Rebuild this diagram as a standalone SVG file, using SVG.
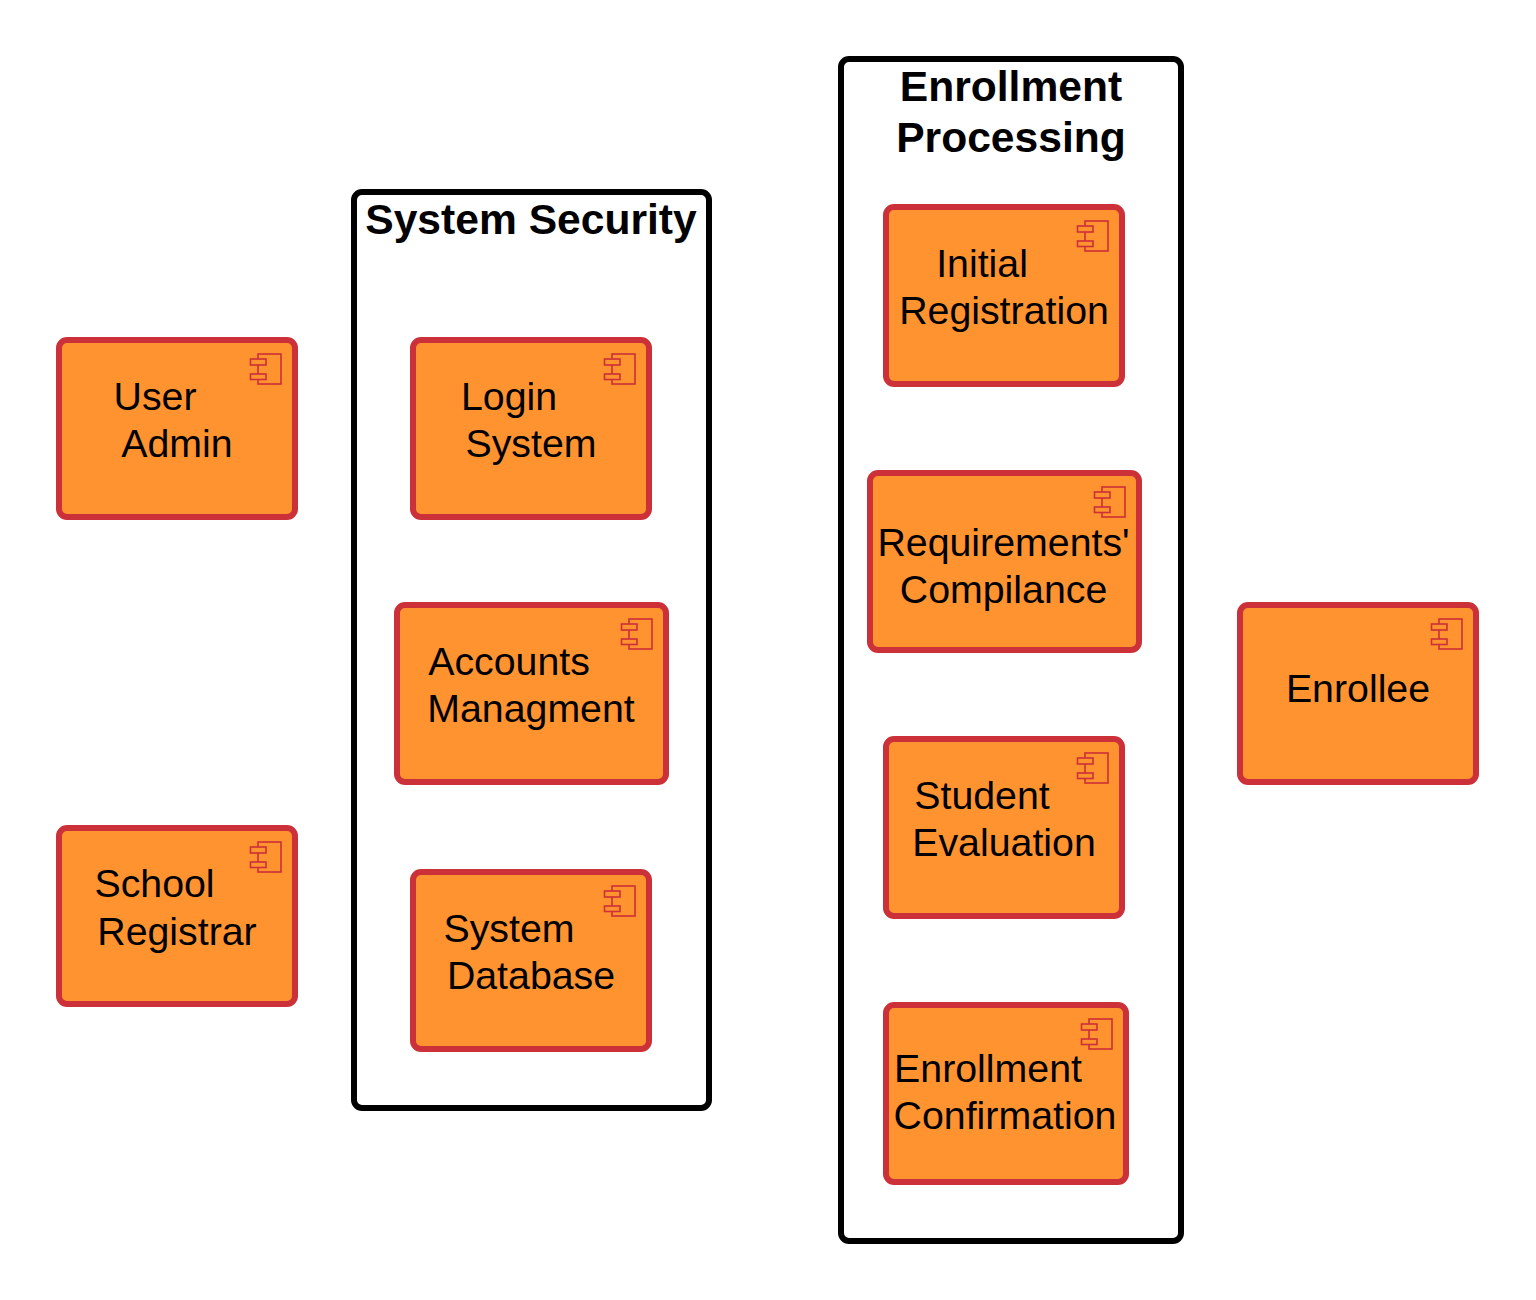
<svg xmlns="http://www.w3.org/2000/svg" width="1536" height="1300" viewBox="0 0 1536 1300">
<style>
.box{fill:#FF9330;stroke:#CC3038;stroke-width:6}
.pkg{fill:#fff;stroke:#000;stroke-width:6}
.t{font-family:"Liberation Sans",Arial,sans-serif;font-size:39.300px;fill:#000;text-anchor:middle}
.h{font-family:"Liberation Sans",Arial,sans-serif;font-size:42.600px;font-weight:bold;fill:#000;text-anchor:middle}
.i{fill:none;stroke:#CC3038;stroke-width:1.600}
.ip{fill:#FF9330;stroke:#CC3038;stroke-width:1.600}
</style>
<defs>
<g id="icon">
<rect class="i" x="8" y="0" width="23" height="30"/>
<rect class="ip" x="0.500" y="5" width="15.500" height="6"/>
<rect class="ip" x="0.500" y="20" width="15.500" height="5.500"/>
</g>
</defs>
<rect width="1536" height="1300" fill="#fff"/>
<g id="system-security">
<rect class="pkg" x="354" y="192" width="355" height="916" rx="8"/>
<text class="h" x="531" y="234">System Security</text>
</g>
<g id="enrollment-processing">
<rect class="pkg" x="841" y="59" width="340" height="1182" rx="8"/>
<text class="h" x="1011" y="101">Enrollment</text>
<text class="h" x="1011" y="152">Processing</text>
</g>
<g id="connectors"/>
<g id="user-admin">
<rect class="box" x="59" y="340" width="236" height="177" rx="8"/>
<use href="#icon" x="250" y="354"/>
<text class="t" x="155" y="410">User</text>
<text class="t" x="177" y="457">Admin</text>
</g>
<g id="school-registrar">
<rect class="box" x="59" y="828" width="236" height="176" rx="8"/>
<use href="#icon" x="250" y="842"/>
<text class="t" x="154.500" y="897">School</text>
<text class="t" x="177" y="945">Registrar</text>
</g>
<g id="login-system">
<rect class="box" x="413" y="340" width="236" height="177" rx="8"/>
<use href="#icon" x="604" y="354"/>
<text class="t" x="509" y="410">Login</text>
<text class="t" x="531" y="457">System</text>
</g>
<g id="accounts-managment">
<rect class="box" x="397" y="605" width="269" height="177" rx="8"/>
<use href="#icon" x="621" y="619"/>
<text class="t" x="509" y="675">Accounts</text>
<text class="t" x="531" y="722">Managment</text>
</g>
<g id="system-database">
<rect class="box" x="413" y="872" width="236" height="177" rx="8"/>
<use href="#icon" x="604" y="886"/>
<text class="t" x="509" y="942">System</text>
<text class="t" x="531" y="989">Database</text>
</g>
<g id="initial-registration">
<rect class="box" x="886" y="207" width="236" height="177" rx="8"/>
<use href="#icon" x="1077" y="221"/>
<text class="t" x="982" y="277">Initial</text>
<text class="t" x="1004" y="324">Registration</text>
</g>
<g id="requirements-compilance">
<rect class="box" x="870" y="473" width="269" height="177" rx="8"/>
<use href="#icon" x="1094" y="487"/>
<text class="t" x="1003.500" y="556">Requirements'</text>
<text class="t" x="1003.500" y="603">Compilance</text>
</g>
<g id="student-evaluation">
<rect class="box" x="886" y="739" width="236" height="177" rx="8"/>
<use href="#icon" x="1077" y="753"/>
<text class="t" x="982" y="809">Student</text>
<text class="t" x="1004" y="856">Evaluation</text>
</g>
<g id="enrollment-confirmation">
<rect class="box" x="886" y="1005" width="240" height="177" rx="8"/>
<use href="#icon" x="1081" y="1019"/>
<text class="t" x="988" y="1082">Enrollment</text>
<text class="t" x="1005" y="1129">Confirmation</text>
</g>
<g id="enrollee">
<rect class="box" x="1240" y="605" width="236" height="177" rx="8"/>
<use href="#icon" x="1431" y="619"/>
<text class="t" x="1358" y="702">Enrollee</text>
</g>
</svg>
